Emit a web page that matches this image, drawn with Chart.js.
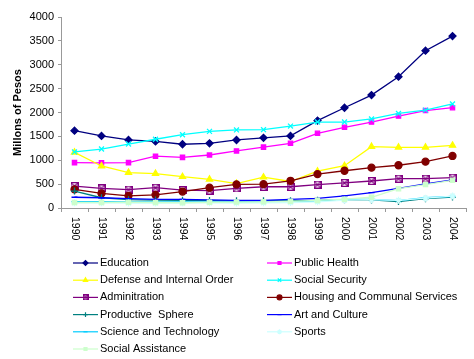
<!DOCTYPE html>
<html>
<head>
<meta charset="utf-8">
<script src="https://cdn.jsdelivr.net/npm/chart.js@4.4.1/dist/chart.umd.min.js"></script>
<style>
  body { margin: 0; background: #fff; }
  #wrap { width: 474px; height: 359px; }
</style>
</head>
<body>
<div id="wrap"><canvas id="budget" width="474" height="359"></canvas></div>
<script>
// years and spending per sector (millions of pesos)
var years = ['1990','1991','1992','1993','1994','1995','1996','1997','1998','1999','2000','2001','2002','2003','2004'];
var yTicks = [0, 500, 1000, 1500, 2000, 2500, 3000, 3500, 4000];

var education      = [1620, 1510, 1425, 1395, 1335, 1355, 1425, 1470, 1510, 1830, 2100, 2365, 2750, 3295, 3600];
var publicHealth   = [950, 945, 950, 1085, 1060, 1110, 1195, 1275, 1355, 1565, 1690, 1800, 1925, 2040, 2100];
var defense        = [1165, 880, 740, 720, 655, 600, 510, 645, 555, 770, 885, 1285, 1270, 1270, 1310];
var socialSecurity = [1175, 1235, 1340, 1440, 1535, 1605, 1635, 1640, 1715, 1800, 1800, 1865, 1980, 2050, 2180];
var adminitration  = [460, 410, 385, 425, 375, 365, 410, 445, 445, 490, 525, 565, 615, 615, 635];
var housing        = [390, 305, 255, 275, 345, 425, 495, 500, 570, 710, 780, 845, 895, 970, 1090];
var productive     = [355, 215, 175, 165, 160, 155, 150, 150, 150, 160, 175, 170, 135, 195, 230];
var artCulture     = [225, 215, 195, 180, 180, 170, 160, 160, 180, 200, 255, 320, 410, 505, 590];
var science        = [135, 135, 130, 130, 130, 130, 125, 125, 130, 150, 180, 180, 155, 215, 245];
var sports         = [110, 110, 105, 105, 110, 110, 105, 110, 115, 130, 165, 175, 160, 205, 250];
var socialAssist   = [115, 115, 120, 115, 110, 120, 125, 130, 140, 160, 185, 225, 405, 490, 580];

var FONT = '"Liberation Sans", Arial, sans-serif';

// boxed x marker for Adminitration
function boxX(color, n) {
    var c = document.createElement('canvas');
    c.width = n; c.height = n;
    var g = c.getContext('2d');
    g.strokeStyle = color; g.lineWidth = 1.2;
    g.strokeRect(0.6, 0.6, n - 1.2, n - 1.2);
    g.beginPath();
    g.moveTo(0.6, 0.6); g.lineTo(n - 0.6, n - 0.6);
    g.moveTo(n - 0.6, 0.6); g.lineTo(0.6, n - 0.6);
    g.stroke();
    return c;
}

function series(label, data, color, style, radius) {
    return {
        label: label,
        data: data,
        borderColor: color,
        backgroundColor: color,
        pointBackgroundColor: color,
        pointBorderColor: color,
        pointStyle: style,
        pointRadius: radius,
        pointBorderWidth: 1.3,
        borderWidth: 1.3,
        tension: 0,
        fill: false
    };
}

var adminMark = boxX('#800080', 8);
var adminMarkSmall = boxX('#800080', 6);

var datasets = [
    series('Education', education, '#000080', 'rectRot', 3.5),
    series('Public Health', publicHealth, '#FF00FF', 'rect', 3),
    series('Defense and Internal Order', defense, '#FFFF00', 'triangle', 3.5),
    series('Social Security', socialSecurity, '#00FFFF', 'crossRot', 3.5),
    series('Adminitration', adminitration, '#800080', adminMark, 4),
    series('Housing and Communal Services', housing, '#800000', 'circle', 3.5),
    series('Productive  Sphere', productive, '#008080', 'cross', 3.5),
    series('Art and Culture', artCulture, '#0000FF', 'line', 3),
    series('Science and Technology', science, '#00CCFF', 'line', 3),
    series('Sports', sports, '#CCFFFF', 'star', 3.5),
    series('Social Assistance', socialAssist, '#CCFFCC', 'rect', 3)
];
// later series painted on top, like the original
datasets.forEach(function (d, i) { d.order = datasets.length - i; });

// x labels read top to bottom (rotated clockwise)
var yearLabels = {
    id: 'yearLabels',
    afterDraw: function (chart) {
        var sx = chart.scales.x, ctx = chart.ctx;
        ctx.save();
        ctx.font = '10.5px ' + FONT;
        ctx.fillStyle = '#000';
        ctx.textAlign = 'left';
        ctx.textBaseline = 'middle';
        years.forEach(function (y, i) {
            ctx.save();
            ctx.translate(sx.getPixelForTick(i), sx.top + 9);
            ctx.rotate(Math.PI / 2);
            ctx.fillText(y, 0, 0);
            ctx.restore();
        });
        ctx.restore();
    }
};

// two column legend under the plot
var twoColLegend = {
    id: 'twoColLegend',
    afterDraw: function (chart) {
        var ctx = chart.ctx;
        var colX = [73, 267], rowY = 263, rowH = 17.2;
        ctx.save();
        ctx.font = '11px ' + FONT;
        ctx.textBaseline = 'middle';
        chart.data.datasets.forEach(function (d, i) {
            var x = colX[i % 2], y = rowY + Math.floor(i / 2) * rowH;
            ctx.strokeStyle = d.borderColor;
            ctx.lineWidth = 1.2;
            ctx.beginPath();
            ctx.moveTo(x, y); ctx.lineTo(x + 25, y);
            ctx.stroke();
            ctx.fillStyle = d.pointBackgroundColor;
            var style = d.pointStyle === adminMark ? adminMarkSmall : d.pointStyle;
            Chart.helpers.drawPoint(ctx, {
                pointStyle: style, radius: d.pointRadius * 0.7,
                rotation: 0, borderWidth: 1
            }, x + 12.5, y);
            ctx.fillStyle = '#000';
            ctx.fillText(d.label, x + 27, y);
        });
        ctx.restore();
    }
};

const ctx = document.getElementById('budget').getContext('2d');
const budgetChart = new Chart(ctx, {
    type: 'line',
    data: { labels: years, datasets: datasets },
    options: {
        responsive: false,
        animation: false,
        layout: { padding: { left: 0, right: 8, top: 17, bottom: 101 } },
        plugins: { legend: { display: false }, tooltip: { enabled: false } },
        scales: {
            x: {
                offset: true,
                grid: { display: true, drawOnChartArea: false, offset: true, tickLength: 4, color: '#999' },
                border: { color: '#999' },
                ticks: { color: 'rgba(0,0,0,0)', minRotation: 90, maxRotation: 90, font: { size: 11 } },
                afterFit: function (s) { s.height = 50; }
            },
            y: {
                min: 0,
                max: 4000,
                afterBuildTicks: function (s) { s.ticks = yTicks.map(function (v) { return { value: v }; }); },
                grid: { display: true, drawOnChartArea: false, tickLength: 3, color: '#999' },
                border: { color: '#999' },
                ticks: {
                    color: '#000', padding: 4,
                    font: { family: FONT, size: 11 },
                    callback: function (v) { return String(v); }
                },
                title: {
                    display: true,
                    text: 'Millons of Pesos',
                    color: '#000',
                    padding: { top: 11, bottom: 0 },
                    font: { family: FONT, size: 11, weight: 'bold' }
                },
                afterFit: function (s) { s.width = 61; }
            }
        }
    },
    plugins: [yearLabels, twoColLegend]
});
</script>
</body>
</html>
